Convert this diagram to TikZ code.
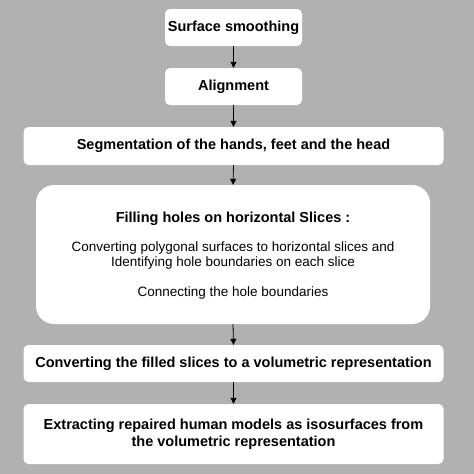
\documentclass[tikz,border=0pt]{standalone}
\usepackage{fontspec}
\setmainfont{Liberation Sans}
\usetikzlibrary{arrows.meta}
\definecolor{bg}{HTML}{B1B1B1}
\tikzset{
  box/.style={fill=white, draw=none, rounded corners=5pt, align=center, inner sep=0pt, font=\fontsize{14.5}{17}\selectfont\bfseries},
  bigbox/.style={fill=white, draw=none, rounded corners=18pt, align=center, inner sep=0pt},
  flow/.style={-{Triangle[length=6pt,width=6pt]}, line width=0.8pt, black},
}
\begin{document}
\begin{tikzpicture}[x=1pt,y=-1pt]
\fill[bg] (0,0) rectangle (474,474);
\useasboundingbox (0,0) rectangle (474,474);
\node[box, minimum width=137pt, minimum height=37pt] (b1) at (233.5,27.5) {Surface smoothing};
\node[box, minimum width=137pt, minimum height=37pt] (b2) at (233.5,86.5) {Alignment};
\node[box, minimum width=420pt, minimum height=38pt] (b3) at (233.5,146) {Segmentation of the hands, feet and the head};
\node[bigbox, minimum width=394pt, minimum height=139pt] (b4) at (233,254.5) {};
\node[font=\fontsize{14.5}{17}\selectfont\bfseries] (t4a) at (233,219) {Filling holes on horizontal Slices :};
\node[font=\fontsize{13.5}{15}\selectfont, align=center, inner sep=0pt] (t4b) at (233,256) {Converting polygonal surfaces to horizontal slices and\\Identifying hole boundaries on each slice};
\node[font=\fontsize{13.5}{15}\selectfont, inner sep=0pt] (t4c) at (233,293.5) {Connecting the hole boundaries};
\node[box, minimum width=420pt, minimum height=37pt] (b5) at (233.5,363.5) {Converting the filled slices to a volumetric representation};
\node[box, minimum width=420pt, minimum height=60pt] (b6) at (233.5,434) {Extracting repaired human models as isosurfaces from\\the volumetric representation};
\draw[flow] (b1.south) -- (b2.north);
\draw[flow] (b2.south) -- (b3.north);
\draw[flow] (b3.south) -- (b4.north);
\draw[flow] (b4.south) -- (b5.north);
\draw[flow] (b5.south) -- (b6.north);
\end{tikzpicture}
\end{document}
